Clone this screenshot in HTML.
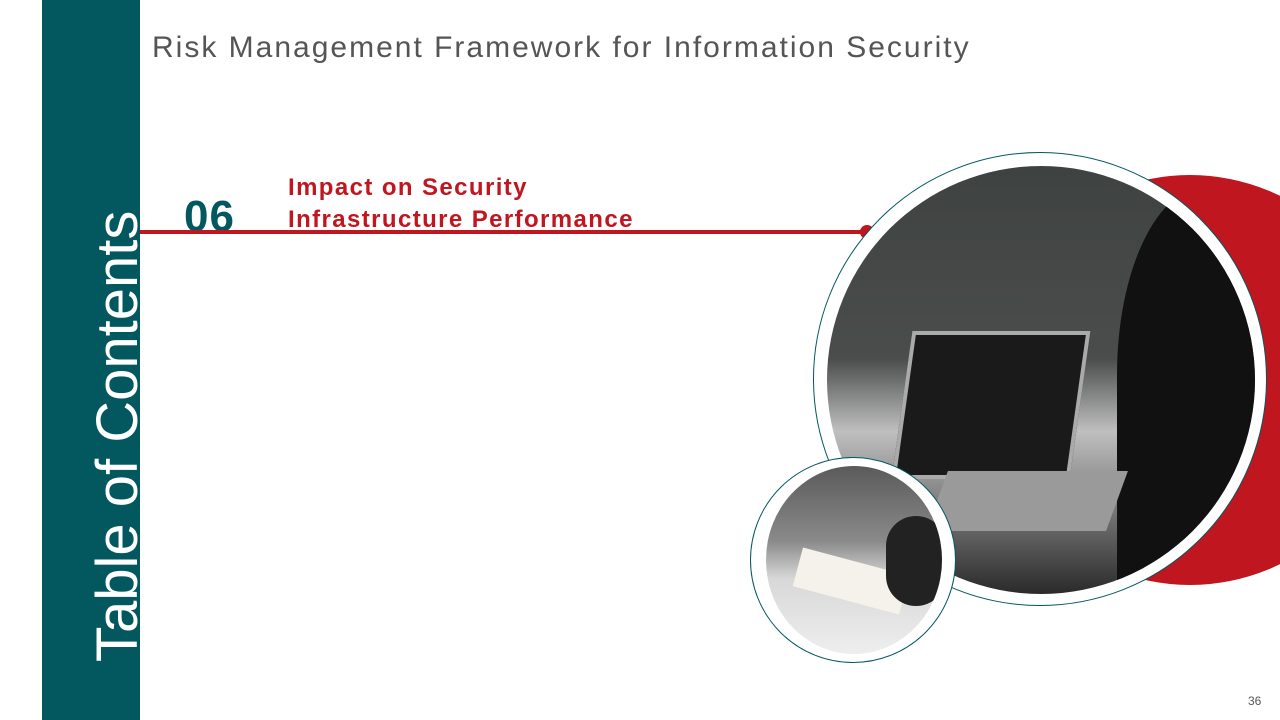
<!DOCTYPE html>
<html><head><meta charset="utf-8"><style>
body{margin:0;width:1280px;height:720px;overflow:hidden;background:#fff;position:relative;font-family:"Liberation Sans",sans-serif}
.a{position:absolute}
</style></head><body>
<div class="a" style="left:42px;top:0;width:98px;height:720px;background:#03585f"></div>
<div class="a" style="left:152px;top:31px;font-size:30px;letter-spacing:2px;color:#555;white-space:nowrap">Risk Management Framework for Information Security</div>
<div class="a" style="left:89px;top:662px;transform:rotate(-90deg);transform-origin:0 0;font-size:58px;color:#fff;white-space:nowrap;line-height:1">Table of Contents</div>
<div class="a" style="left:184px;top:192px;font-size:44px;font-weight:bold;color:#03585f;letter-spacing:1px">06</div>
<div class="a" style="left:288px;top:172px;font-size:24px;font-weight:bold;color:#c0161f;line-height:32px;letter-spacing:1.4px;white-space:nowrap">Impact on Security<br>Infrastructure Performance</div>
<div class="a" style="left:140px;top:230px;width:727px;height:4px;background:#c0161f"></div>
<div class="a" style="left:860px;top:225px;width:14px;height:14px;border-radius:50%;background:#c0161f"></div>
<div class="a" style="left:985px;top:175px;width:410px;height:410px;border-radius:50%;background:#c0161f"></div>
<div class="a" style="left:813px;top:152px;width:454px;height:454px;border-radius:50%;background:#fff;border:1px solid #03585f;box-sizing:border-box"></div>
<div class="a" style="left:827px;top:166px;width:428px;height:428px;border-radius:50%;overflow:hidden;background:linear-gradient(180deg,#3e4241 0%,#4a4d4c 45%,#bfbfbf 62%,#2a2a2a 100%)">
 <div class="a" style="left:290px;top:20px;width:200px;height:420px;border-radius:45% 45% 0 0;background:#111"></div>
 <div class="a" style="left:75px;top:165px;width:170px;height:140px;background:#1a1a1a;transform:skewX(-8deg);border:4px solid #aaa"></div>
 <div class="a" style="left:110px;top:305px;width:180px;height:60px;background:#9a9a9a;transform:skewX(-20deg)"></div>
</div>
<div class="a" style="left:750px;top:457px;width:206px;height:206px;border-radius:50%;background:#fff;border:1px solid #03585f;box-sizing:border-box"></div>
<div class="a" style="left:766px;top:466px;width:176px;height:188px;border-radius:50%;overflow:hidden;background:linear-gradient(180deg,#5a5a5a 0%,#8a8a8a 40%,#d8d8d8 60%,#eee 100%)">
 <div class="a" style="left:30px;top:95px;width:110px;height:40px;background:#f4f2ea;transform:rotate(15deg)"></div>
 <div class="a" style="left:120px;top:50px;width:60px;height:90px;background:#222;border-radius:30px"></div>
</div>
<div class="a" style="left:1248px;top:694px;font-size:12px;color:#555">36</div>
</body></html>
